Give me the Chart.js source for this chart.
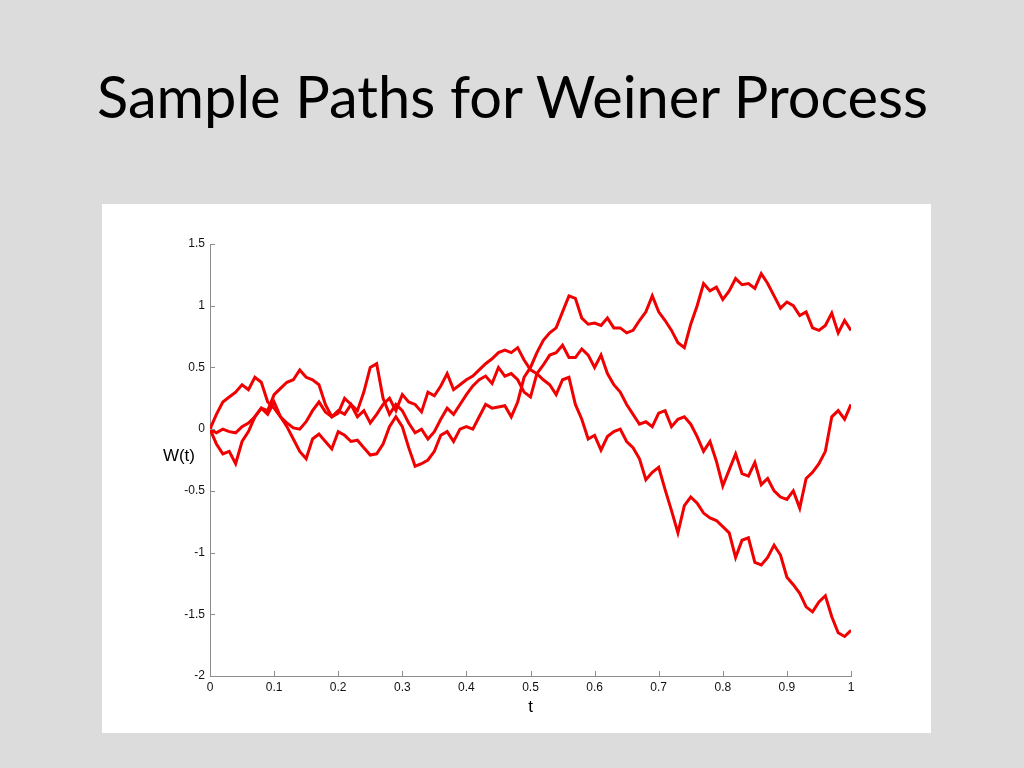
<!DOCTYPE html>
<html>
<head>
<meta charset="utf-8">
<script src="https://cdn.jsdelivr.net/npm/chart.js@4"></script>
<style>
    html, body { margin: 0; padding: 0; }
    body { width: 1024px; height: 768px; background: #dcdcdc; position: relative; overflow: hidden; }
    #title { position: absolute; left: 97px; top: 66px; display: inline-block; white-space: nowrap;
             font-family: Lato, "Open Sans", sans-serif; font-size: 59px; line-height: 60px; color: #000;
             transform-origin: 0 0; }
    #chartBox { position: absolute; left: 102px; top: 204px; width: 829px; height: 529px; background: #fff; }
</style>
</head>
<body>
<div id="title">Sample Paths for Weiner Process</div>
<div id="chartBox"><canvas id="chart" width="829" height="529"></canvas></div>
<script>
/* time grid (t) */
var tValues = [
    0, 0.01, 0.02, 0.03, 0.04, 0.05, 0.06, 0.07, 0.08, 0.09,
    0.1, 0.11, 0.12, 0.13, 0.14, 0.15, 0.16, 0.17, 0.18, 0.19,
    0.2, 0.21, 0.22, 0.23, 0.24, 0.25, 0.26, 0.27, 0.28, 0.29,
    0.3, 0.31, 0.32, 0.33, 0.34, 0.35, 0.36, 0.37, 0.38, 0.39,
    0.4, 0.41, 0.42, 0.43, 0.44, 0.45, 0.46, 0.47, 0.48, 0.49,
    0.5, 0.51, 0.52, 0.53, 0.54, 0.55, 0.56, 0.57, 0.58, 0.59,
    0.6, 0.61, 0.62, 0.63, 0.64, 0.65, 0.66, 0.67, 0.68, 0.69,
    0.7, 0.71, 0.72, 0.73, 0.74, 0.75, 0.76, 0.77, 0.78, 0.79,
    0.8, 0.81, 0.82, 0.83, 0.84, 0.85, 0.86, 0.87, 0.88, 0.89,
    0.9, 0.91, 0.92, 0.93, 0.94, 0.95, 0.96, 0.97, 0.98, 0.99,
    1
];

/* path ending high (~0.8) */
var pathA = [
    0, 0.12, 0.22, 0.26, 0.3, 0.36, 0.32, 0.42, 0.38, 0.22,
    0.17, 0.1, 0.02, -0.08, -0.18, -0.24, -0.08, -0.04, -0.1, -0.16,
    -0.02, -0.05, -0.1, -0.09, -0.15, -0.21, -0.2, -0.12, 0.02, 0.1,
    0.02, -0.15, -0.3, -0.28, -0.25, -0.18, -0.05, -0.02, -0.1, 0,
    0.02, 0, 0.1, 0.2, 0.17, 0.18, 0.19, 0.1, 0.22, 0.42,
    0.5, 0.62, 0.72, 0.78, 0.82, 0.95, 1.08, 1.06, 0.9, 0.85,
    0.86, 0.84, 0.9, 0.82, 0.82, 0.78, 0.8, 0.88, 0.95, 1.08,
    0.95, 0.88, 0.8, 0.7, 0.66, 0.85, 1.0, 1.18, 1.12, 1.15,
    1.05, 1.12, 1.22, 1.17, 1.18, 1.14, 1.26, 1.18, 1.08, 0.98,
    1.03, 1.0, 0.92, 0.95, 0.82, 0.8, 0.84, 0.94, 0.78, 0.88,
    0.8
];

/* path ending near 0.2 */
var pathB = [
    0, -0.12, -0.2, -0.18, -0.28, -0.1, -0.02, 0.1, 0.17, 0.15,
    0.28, 0.33, 0.38, 0.4, 0.48, 0.42, 0.4, 0.36, 0.2, 0.1,
    0.13, 0.25, 0.2, 0.15, 0.3, 0.5, 0.53, 0.25, 0.12, 0.2,
    0.15, 0.05, -0.03, 0, -0.08, -0.02, 0.08, 0.17, 0.12, 0.2,
    0.28, 0.35, 0.4, 0.43, 0.37, 0.5, 0.43, 0.45, 0.4, 0.3,
    0.26, 0.45, 0.52, 0.6, 0.62, 0.68, 0.58, 0.58, 0.65, 0.6,
    0.5, 0.6, 0.45, 0.36, 0.3, 0.2, 0.12, 0.04, 0.06, 0.02,
    0.13, 0.15, 0.02, 0.08, 0.1, 0.04, -0.06, -0.18, -0.1, -0.26,
    -0.46, -0.33, -0.2, -0.36, -0.38, -0.27, -0.45, -0.4, -0.5, -0.55,
    -0.57, -0.5, -0.64, -0.4, -0.35, -0.28, -0.18, 0.1, 0.15, 0.08,
    0.2
];

/* path ending low (~-1.63) */
var pathC = [
    0, -0.03, 0, -0.02, -0.03, 0.02, 0.05, 0.1, 0.17, 0.12,
    0.22, 0.1, 0.05, 0.01, 0, 0.06, 0.15, 0.22, 0.14, 0.1,
    0.15, 0.12, 0.2, 0.1, 0.15, 0.05, 0.12, 0.2, 0.25, 0.15,
    0.28, 0.22, 0.2, 0.14, 0.3, 0.27, 0.35, 0.45, 0.32, 0.36,
    0.4, 0.43, 0.48, 0.53, 0.57, 0.62, 0.64, 0.62, 0.66, 0.56,
    0.48, 0.45, 0.4, 0.36, 0.28, 0.4, 0.42, 0.2, 0.08, -0.08,
    -0.05, -0.17, -0.06, -0.02, 0, -0.1, -0.15, -0.24, -0.41, -0.35,
    -0.31, -0.49, -0.66, -0.84, -0.62, -0.55, -0.6, -0.68, -0.72, -0.74,
    -0.79, -0.84, -1.04, -0.9, -0.88, -1.08, -1.1, -1.04, -0.94, -1.02,
    -1.2, -1.26, -1.33, -1.44, -1.48, -1.4, -1.35, -1.52, -1.65, -1.68,
    -1.63
];

/* axis ticks */
var xTicks = [0, 0.1, 0.2, 0.3, 0.4, 0.5, 0.6, 0.7, 0.8, 0.9, 1];
var xTickLabels = ['0', '0.1', '0.2', '0.3', '0.4', '0.5', '0.6', '0.7', '0.8', '0.9', '1'];
var yTicks = [-2, -1.5, -1, -0.5, 0, 0.5, 1, 1.5];
var yTickLabels = ['-2', '-1.5', '-1', '-0.5', '0', '0.5', '1', '1.5'];
var xTitle = 't';
var yTitle = 'W(t)';

var AXIS_COLOR = '#8c8c8c';
var LINE_COLOR = '#f00000';
var TICK_FONT = {family: '"Liberation Sans", Arial, sans-serif', size: 12};

// 제목 폭 맞추기
var titleEl = document.getElementById('title');
var titleW = titleEl.getBoundingClientRect().width;
titleEl.style.transform = 'scaleX(' + (831 / titleW) + ')';

function toPoints(_values) {
    var pts = [];
    for (var i = 0; i < tValues.length; i++) {
        pts.push({x: tValues[i], y: _values[i]});
    }
    return pts;
}

function lineSet(_values) {
    return {
        data: toPoints(_values),
        borderColor: LINE_COLOR,
        borderWidth: 3,
        pointRadius: 0,
        tension: 0,
        fill: false
    };
}

/* inward tick marks + axis titles (matlab style) */
var axisDecor = {
    id: 'axisDecor',
    afterDraw: function (chart) {
        var ctx = chart.ctx;
        var area = chart.chartArea;
        var xs = chart.scales.x;
        var ys = chart.scales.y;

        ctx.save();
        ctx.strokeStyle = AXIS_COLOR;
        ctx.lineWidth = 1;
        ctx.beginPath();
        for (var i = 0; i < xs.ticks.length; i++) {
            var px = Math.round(xs.getPixelForValue(xs.ticks[i].value)) + 0.5;
            ctx.moveTo(px, area.bottom);
            ctx.lineTo(px, area.bottom - 5);
        }
        for (var j = 0; j < ys.ticks.length; j++) {
            var py = Math.round(ys.getPixelForValue(ys.ticks[j].value)) + 0.5;
            ctx.moveTo(area.left, py);
            ctx.lineTo(area.left + 5, py);
        }
        ctx.stroke();

        ctx.fillStyle = '#000';
        ctx.font = '17px "Liberation Sans", Arial, sans-serif';
        ctx.textAlign = 'right';
        ctx.textBaseline = 'middle';
        ctx.fillText(yTitle, area.left - 15, (area.top + area.bottom) / 2 - 4);
        ctx.textAlign = 'center';
        ctx.textBaseline = 'top';
        ctx.fillText(xTitle, (area.left + area.right) / 2, area.bottom + 23);
        ctx.restore();
    }
};

var CHART = new Chart(document.getElementById('chart'), {
    type: 'line',
    data: {
        datasets: [lineSet(pathA), lineSet(pathB), lineSet(pathC)]
    },
    options: {
        responsive: false,
        animation: false,
        layout: {padding: {top: 40, right: 80, left: 0, bottom: 0}},
        plugins: {legend: {display: false}, tooltip: {enabled: false}},
        scales: {
            x: {
                type: 'linear',
                min: 0,
                max: 1,
                grid: {display: true, drawOnChartArea: false, drawTicks: false},
                border: {display: true, color: AXIS_COLOR, width: 1},
                afterBuildTicks: function (scale) {
                    scale.ticks = xTicks.map(function (v) { return {value: v}; });
                },
                afterFit: function (scale) { scale.height = 57; },
                ticks: {
                    padding: 4,
                    color: '#111',
                    font: TICK_FONT,
                    maxRotation: 0,
                    autoSkip: false,
                    callback: function (v, idx) { return xTickLabels[idx]; }
                }
            },
            y: {
                type: 'linear',
                min: -2,
                max: 1.5,
                grid: {display: true, drawOnChartArea: false, drawTicks: false},
                border: {display: true, color: AXIS_COLOR, width: 1},
                afterBuildTicks: function (scale) {
                    scale.ticks = yTicks.map(function (v) { return {value: v}; });
                },
                afterFit: function (scale) { scale.width = 108; },
                ticks: {
                    padding: 5,
                    color: '#111',
                    font: TICK_FONT,
                    autoSkip: false,
                    callback: function (v, idx) { return yTickLabels[idx]; }
                }
            }
        }
    },
    plugins: [axisDecor]
});
</script>
</body>
</html>
